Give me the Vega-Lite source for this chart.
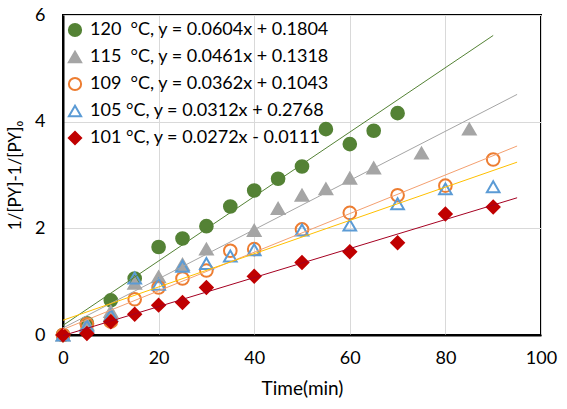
{
  "$schema": "https://vega.github.io/schema/vega-lite/v6.json",
  "autosize": "none",
  "width": 478,
  "height": 320,
  "padding": {"left": 63, "top": 15, "right": 26, "bottom": 74},
  "background": "white",
  "config": {
    "font": "Lato",
    "view": {"stroke": "#000000", "strokeWidth": 2},
    "axis": {
      "labelFont": "Lato",
      "labelFontSize": 18,
      "labelColor": "black",
      "labelFlush": false,
      "titleFont": "Lato",
      "titleFontSize": 17,
      "titleFontWeight": "normal",
      "titleColor": "black",
      "ticks": false,
      "domain": true,
      "domainColor": "#000000",
      "domainWidth": 2,
      "gridColor": "#d9d9d9",
      "gridWidth": 1
    }
  },
  "datasets": {
    "points": [
      {"s": "120", "t": 0, "v": 0}, {"s": "120", "t": 5, "v": 0.22}, {"s": "120", "t": 10, "v": 0.65},
      {"s": "120", "t": 15, "v": 1.06}, {"s": "120", "t": 20, "v": 1.65}, {"s": "120", "t": 25, "v": 1.81},
      {"s": "120", "t": 30, "v": 2.04}, {"s": "120", "t": 35, "v": 2.41}, {"s": "120", "t": 40, "v": 2.71},
      {"s": "120", "t": 45, "v": 2.93}, {"s": "120", "t": 50, "v": 3.16}, {"s": "120", "t": 55, "v": 3.86},
      {"s": "120", "t": 60, "v": 3.58}, {"s": "120", "t": 65, "v": 3.83}, {"s": "120", "t": 70, "v": 4.16},
      {"s": "115", "t": 0, "v": 0}, {"s": "115", "t": 5, "v": 0.2}, {"s": "115", "t": 10, "v": 0.44},
      {"s": "115", "t": 15, "v": 0.97}, {"s": "115", "t": 20, "v": 1.09}, {"s": "115", "t": 25, "v": 1.32},
      {"s": "115", "t": 30, "v": 1.61}, {"s": "115", "t": 40, "v": 1.96}, {"s": "115", "t": 45, "v": 2.37},
      {"s": "115", "t": 50, "v": 2.62}, {"s": "115", "t": 55, "v": 2.74}, {"s": "115", "t": 60, "v": 2.94},
      {"s": "115", "t": 65, "v": 3.13}, {"s": "115", "t": 75, "v": 3.41}, {"s": "115", "t": 85, "v": 3.86},
      {"s": "109", "t": 0, "v": 0}, {"s": "109", "t": 5, "v": 0.2}, {"s": "109", "t": 10, "v": 0.25},
      {"s": "109", "t": 15, "v": 0.67}, {"s": "109", "t": 20, "v": 0.89}, {"s": "109", "t": 25, "v": 1.06},
      {"s": "109", "t": 30, "v": 1.21}, {"s": "109", "t": 35, "v": 1.58}, {"s": "109", "t": 40, "v": 1.61},
      {"s": "109", "t": 50, "v": 1.98}, {"s": "109", "t": 60, "v": 2.29}, {"s": "109", "t": 70, "v": 2.62},
      {"s": "109", "t": 80, "v": 2.8}, {"s": "109", "t": 90, "v": 3.29},
      {"s": "105", "t": 0, "v": 0}, {"s": "105", "t": 5, "v": 0.17}, {"s": "105", "t": 10, "v": 0.37},
      {"s": "105", "t": 15, "v": 1.07}, {"s": "105", "t": 20, "v": 0.95}, {"s": "105", "t": 25, "v": 1.29},
      {"s": "105", "t": 30, "v": 1.34}, {"s": "105", "t": 35, "v": 1.48}, {"s": "105", "t": 40, "v": 1.6},
      {"s": "105", "t": 50, "v": 1.97}, {"s": "105", "t": 60, "v": 2.06}, {"s": "105", "t": 70, "v": 2.46},
      {"s": "105", "t": 80, "v": 2.74}, {"s": "105", "t": 90, "v": 2.78},
      {"s": "101", "t": 0, "v": 0}, {"s": "101", "t": 5, "v": 0.03}, {"s": "101", "t": 10, "v": 0.25},
      {"s": "101", "t": 15, "v": 0.39}, {"s": "101", "t": 20, "v": 0.56}, {"s": "101", "t": 25, "v": 0.61},
      {"s": "101", "t": 30, "v": 0.89}, {"s": "101", "t": 40, "v": 1.1}, {"s": "101", "t": 50, "v": 1.36},
      {"s": "101", "t": 60, "v": 1.56}, {"s": "101", "t": 70, "v": 1.73}, {"s": "101", "t": 80, "v": 2.27},
      {"s": "101", "t": 90, "v": 2.4}
    ],
    "trends": [
      {"s": "120", "t1": 0, "v1": 0.1804, "t2": 90, "v2": 5.6164},
      {"s": "115", "t1": 0, "v1": 0.1318, "t2": 95, "v2": 4.5113},
      {"s": "109", "t1": 0, "v1": 0.1043, "t2": 95, "v2": 3.5433},
      {"s": "105", "t1": 0, "v1": 0.2768, "t2": 95, "v2": 3.2408},
      {"s": "101", "t1": 0, "v1": -0.0111, "t2": 95, "v2": 2.5729}
    ],
    "labels": [
      {"s": "120", "label": "120 \u00a0°C, y = 0.0604x + 0.1804"},
      {"s": "115", "label": "115 \u00a0°C, y = 0.0461x + 0.1318"},
      {"s": "109", "label": "109 \u00a0°C, y = 0.0362x + 0.1043"},
      {"s": "105", "label": "105 °C, y = 0.0312x + 0.2768"},
      {"s": "101", "label": "101 °C, y = 0.0272x - 0.0111"}
    ]
  },
  "layer": [
    {
      "data": {"name": "points"},
      "transform": [{"lookup": "s", "from": {"data": {"name": "labels"}, "key": "s", "fields": ["label"]}}],
      "mark": {"type": "point", "size": 160, "strokeWidth": 2, "opacity": 1},
      "encoding": {
        "x": {
          "field": "t", "type": "quantitative",
          "scale": {"domain": [0, 100], "nice": false},
          "axis": {"values": [0, 20, 40, 60, 80, 100], "title": "Time(min)", "titleFontSize": 19, "labelPadding": 14, "titlePadding": 12}
        },
        "y": {
          "field": "v", "type": "quantitative",
          "scale": {"domain": [0, 6], "nice": false},
          "axis": {"values": [0, 2, 4, 6], "title": "1/[PY]-1/[PY]₀", "labelPadding": 18, "titlePadding": 10}
        },
        "shape": {
          "field": "label", "type": "nominal", "sort": null,
          "scale": {
            "domain": ["120 \u00a0°C, y = 0.0604x + 0.1804", "115 \u00a0°C, y = 0.0461x + 0.1318", "109 \u00a0°C, y = 0.0362x + 0.1043", "105 °C, y = 0.0312x + 0.2768", "101 °C, y = 0.0272x - 0.0111"],
            "range": ["circle", "triangle-up", "circle", "triangle-up", "diamond"]
          },
          "legend": {"title": null}
        },
        "stroke": {
          "field": "label", "type": "nominal",
          "scale": {
            "domain": ["120 \u00a0°C, y = 0.0604x + 0.1804", "115 \u00a0°C, y = 0.0461x + 0.1318", "109 \u00a0°C, y = 0.0362x + 0.1043", "105 °C, y = 0.0312x + 0.2768", "101 °C, y = 0.0272x - 0.0111"],
            "range": ["#548235", "#a5a5a5", "#ed7d31", "#5b9bd5", "#c00000"]
          },
          "legend": {"title": null}
        },
        "fill": {
          "field": "label", "type": "nominal",
          "scale": {
            "domain": ["120 \u00a0°C, y = 0.0604x + 0.1804", "115 \u00a0°C, y = 0.0461x + 0.1318", "109 \u00a0°C, y = 0.0362x + 0.1043", "105 °C, y = 0.0312x + 0.2768", "101 °C, y = 0.0272x - 0.0111"],
            "range": ["#548235", "#a5a5a5", "transparent", "transparent", "#c00000"]
          },
          "legend": {
            "title": null,
            "orient": "none",
            "legendX": 3,
            "legendY": 6,
            "padding": 0,
            "labelFont": "Lato",
            "labelFontSize": 18,
            "labelColor": "black",
            "labelLimit": 400,
            "labelOffset": 6,
            "rowPadding": 6,
            "symbolSize": 150,
            "symbolStrokeWidth": 2
          }
        }
      }
    },
    {
      "data": {"name": "trends"},
      "mark": {"type": "rule", "strokeWidth": 1},
      "encoding": {
        "x": {"field": "t1", "type": "quantitative"},
        "y": {"field": "v1", "type": "quantitative"},
        "x2": {"field": "t2"},
        "y2": {"field": "v2"},
        "color": {
          "field": "s", "type": "nominal",
          "scale": {"domain": ["120", "115", "109", "105", "101"], "range": ["#548235", "#a5a5a5", "#f4a070", "#ffc000", "#a50021"]},
          "legend": null
        }
      }
    }
  ]
}
